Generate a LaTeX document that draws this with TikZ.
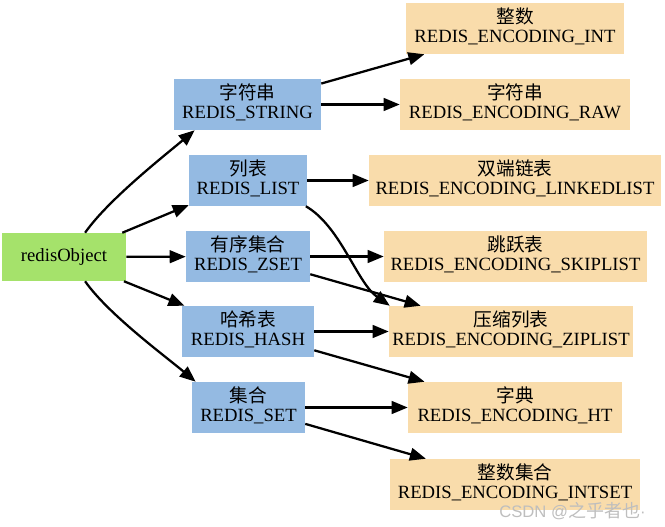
\documentclass[tikz,border=0pt]{standalone}
\usepackage{fontspec}
\setmainfont{Liberation Serif}
\newfontfamily\cjk{Noto Sans CJK SC}
\newfontfamily\wsans{Liberation Sans}
\usetikzlibrary{arrows.meta}
\definecolor{typeblue}{RGB}{148,186,226}
\definecolor{objgreen}{RGB}{165,226,107}
\definecolor{enctan}{RGB}{249,220,171}
\definecolor{wmgray}{RGB}{190,190,190}
\tikzset{
  box/.style={inner sep=0pt, align=center, font=\fontsize{14}{14.5}\selectfont, minimum height=38.25pt, text depth=5.5pt},
  objbox/.style={inner sep=0pt, font=\fontsize{14}{14.5}\selectfont, fill=objgreen, minimum height=36pt},
  typebox/.style={box, fill=typeblue},
  encbox/.style={box, fill=enctan},
  arr/.style={-{Triangle[length=12pt,width=9.5pt]}, line width=1.7pt, black},
}
\begin{document}
\begin{tikzpicture}[x=0.75pt,y=0.75pt]
\useasboundingbox (0,0) rectangle (665,-527);
% left
\node[objbox, minimum width=93pt] (obj) at (64,-257) {redisObject};
% types
\node[typebox, minimum width=110.25pt] (str) at (247.5,-104.5) {{\cjk 字符串}\\REDIS\_STRING};
\node[typebox, minimum width=88.5pt] (list) at (248,-180.5) {{\cjk 列表}\\REDIS\_LIST};
\node[typebox, minimum width=93pt] (zset) at (248,-256.5) {{\cjk 有序集合}\\REDIS\_ZSET};
\node[typebox, minimum width=99pt] (hash) at (248,-331.5) {{\cjk 哈希表}\\REDIS\_HASH};
\node[typebox, minimum width=84.75pt] (set) at (248.5,-407.5) {{\cjk 集合}\\REDIS\_SET};
% encodings
\node[encbox, minimum width=163.5pt] (int) at (515,-28.5) {{\cjk 整数}\\REDIS\_ENCODING\_INT};
\node[encbox, minimum width=172.5pt] (raw) at (515,-104.5) {{\cjk 字符串}\\REDIS\_ENCODING\_RAW};
\node[encbox, minimum width=219pt] (linked) at (515,-180.5) {{\cjk 双端链表}\\REDIS\_ENCODING\_LINKEDLIST};
\node[encbox, minimum width=197.25pt] (skip) at (515.5,-256.5) {{\cjk 跳跃表}\\REDIS\_ENCODING\_SKIPLIST};
\node[encbox, minimum width=183pt] (zip) at (511,-331.5) {{\cjk 压缩列表}\\REDIS\_ENCODING\_ZIPLIST};
\node[encbox, minimum width=160.5pt] (ht) at (515,-407.5) {{\cjk 字典}\\REDIS\_ENCODING\_HT};
\node[encbox, minimum width=187.5pt] (intset) at (515,-484.5) {{\cjk 整数集合}\\REDIS\_ENCODING\_INTSET};
% watermark
\node[inner sep=0pt, text=wmgray, anchor=west] (wm) at (499,-511) {{\wsans\fontsize{12.5}{14}\selectfont CSDN @}{\cjk\fontsize{13.5}{14}\selectfont 之乎者也}{\wsans\fontsize{12.5}{14}\selectfont ·}};
% edges from redisObject
\draw[arr] (obj.49) .. controls +(55:40) and +(220:40) .. (str.206);
\draw[arr] (obj) -- (list);
\draw[arr] (obj) -- (zset);
\draw[arr] (obj) -- (hash);
\draw[arr] (obj.-49) .. controls +(-55:40) and +(140:40) .. (set.154);
% edges to encodings
\draw[arr] (str) -- (int);
\draw[arr] (str) -- (raw);
\draw[arr] (list) -- (linked);
\draw[arr] (list.-24) .. controls +(-30:40) and +(145:40) .. (zip.168);
\draw[arr] (zset) -- (skip);
\draw[arr] (zset) -- (zip);
\draw[arr] (hash) -- (zip);
\draw[arr] (hash) -- (ht);
\draw[arr] (set) -- (ht);
\draw[arr] (set) -- (intset);
\end{tikzpicture}
\end{document}
